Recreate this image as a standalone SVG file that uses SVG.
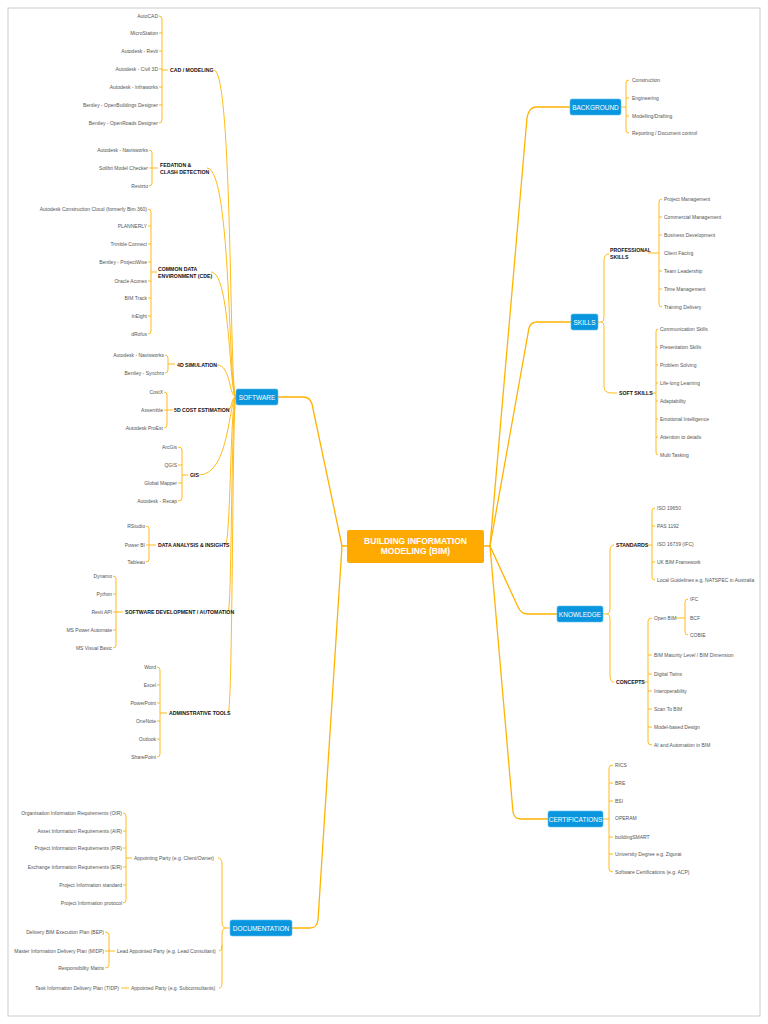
<svg xmlns="http://www.w3.org/2000/svg" width="768" height="1024" viewBox="0 0 768 1024">
<style>
.l{font-family:"Liberation Sans",Arial,sans-serif;font-size:5px;fill:#555}
.r{text-anchor:end}
.b{font-family:"Liberation Sans",Arial,sans-serif;font-size:5.2px;font-weight:bold;fill:#111}
.n{font-family:"Liberation Sans",Arial,sans-serif;font-size:6.5px;fill:#fff;text-anchor:middle}
.c{stroke:#FFB300;stroke-width:0.9;fill:none}
.m{stroke:#FFB300;stroke-width:1.3;fill:none}
.bx{fill:#0A96DE;stroke:#5BC0F0;stroke-width:0.6}
</style>
<rect x="8" y="8" width="752" height="1008" fill="#fff" stroke="#ccc" stroke-width="1"/>
<g id="connectors">
<path class="m" d="M347,546 H342 L312,404 Q310,397 303,397 H278"/>
<path class="m" d="M342,546 L318,920 Q317,928 310,928 H292"/>
<path class="m" d="M484,546 H490 L527,118 Q529,107 536,107 H570"/>
<path class="m" d="M490,546 L529,328 Q531,322 537,322 H571"/>
<path class="m" d="M490,546 L518,607 Q521,614 528,614 H557"/>
<path class="m" d="M490,546 L513,812 Q514,819 521,819 H548"/>
<!-- software groups to spine -->
<path class="c" d="M214,70 C233,70 229,397 236,397"/>
<path class="c" d="M207,168 C232,168 228,397 236,397"/>
<path class="c" d="M211,272 C231,272 229,397 236,397"/>
<path class="c" d="M217,365 C231,365 229,397 236,397"/>
<path class="c" d="M228,410 C232,410 231,397 236,397"/>
<path class="c" d="M199,475 C230,475 229,397 236,397"/>
<path class="c" d="M225,545 C231,545 230,397 236,397"/>
<path class="c" d="M228,612 C232,612 231,397 236,397"/>
<path class="c" d="M228,713 C233,713 232,397 236,397"/>
<!-- brackets software -->
<path class="c" d="M159,16 Q162,16 162,19 V120 Q162,123 159,123 M159,33 H162 M159,51 H162 M159,69 H162 M159,87 H162 M159,105 H162 M162,70 H168"/>
<path class="c" d="M149,150 Q152,150 152,153 V183 Q152,186 149,186 M149,168 H158"/>
<path class="c" d="M148,209 Q151,209 151,212 V331 Q151,334 148,334 M148,226 H151 M148,244 H151 M148,262 H151 M148,281 H151 M148,298 H151 M148,316 H151 M151,272 H157"/>
<path class="c" d="M165,355 Q168,355 168,358 V370 Q168,373 165,373 M168,364 H175"/>
<path class="c" d="M164,392 Q167,392 167,395 V425 Q167,428 164,428 M164,410 H173"/>
<path class="c" d="M178,447 Q182,447 182,450 V498 Q182,501 178,501 M178,465 H182 M178,483 H182 M182,475 H188"/>
<path class="c" d="M146,526 Q149,526 149,529 V559 Q149,562 146,562 M146,545 H156"/>
<path class="c" d="M113,576 Q116,576 116,579 V645 Q116,648 113,648 M113,594 H116 M113,612 H123 M113,630 H116"/>
<path class="c" d="M157,667 Q160,667 160,670 V754 Q160,757 157,757 M157,685 H160 M157,703 H160 M157,721 H160 M157,739 H160 M160,713 H167"/>
<!-- documentation -->
<path class="c" d="M230,928 H226 Q222,928 222,922 V864 Q222,858 218,858 M226,928 Q222,928 222,934 V945 Q222,951 219,951 M222,945 V982 Q222,988 219,988"/>
<path class="c" d="M123,813 Q126,813 126,816 V900 Q126,903 123,903 M123,831 H126 M123,848 H126 M123,867 H126 M123,885 H126 M126,858 H132"/>
<path class="c" d="M105,932 Q109,932 109,935 V965 Q109,968 105,968 M105,951 H115"/>
<path class="c" d="M121,988 H129"/>
<!-- right side -->
<path class="c" d="M621,107 H626 M629,80 Q626,80 626,83 V130 Q626,133 629,133 M629,98 H626 M629,116 H626"/>
<path class="c" d="M598,322 H601 Q604,322 604,316 V260 Q604,254 609,254 M601,322 Q604,322 604,328 V387 Q604,393 612,393 H617"/>
<path class="c" d="M648,253 H659 M662,199 Q659,199 659,202 V304 Q659,307 662,307 M662,217 H659 M662,235 H659 M662,271 H659 M662,289 H659"/>
<path class="c" d="M651,393 H656 M658,329 Q656,329 656,332 V452 Q656,455 658,455 M658,347 H656 M658,365 H656 M658,383 H656 M658,401 H656 M658,419 H656 M658,437 H656"/>
<path class="c" d="M603,614 H607 Q610,614 610,608 V551 Q610,545 614,545 M607,614 Q610,614 610,620 V676 Q610,682 614,682"/>
<path class="c" d="M646,545 H652 M655,508 Q652,508 652,511 V577 Q652,580 655,580 M655,526 H652 M655,562 H652"/>
<path class="c" d="M643,682 H648 M652,618 Q648,618 648,621 V742 Q648,745 652,745 M652,655 H648 M652,674 H648 M652,691 H648 M652,709 H648 M652,727 H648"/>
<path class="c" d="M676,618 H685 M688,599 Q685,599 685,602 V632 Q685,635 688,635"/>
<path class="c" d="M603,819 H609 M613,765 Q609,765 609,768 V869 Q609,872 613,872 M613,783 H609 M613,801 H609 M613,837 H609 M613,854 H609"/>
</g>
<g id="center"><rect x="347" y="530" width="137" height="33" rx="2" fill="#FFAA00"/>
<text class="n" x="415.5" y="544" style="font-size:8.5px;font-weight:bold">BUILDING INFORMATION</text>
<text class="n" x="415.5" y="554" style="font-size:8.5px;font-weight:bold">MODELING (BIM)</text></g>
<g id="software"><rect class="bx" x="236" y="389" width="42" height="16" rx="2"/><text class="n" x="257" y="399.5">SOFTWARE</text></g>
<g id="documentation"><rect class="bx" x="230" y="920" width="62" height="16" rx="2"/><text class="n" x="261" y="930.5">DOCUMENTATION</text></g>
<g id="background"><rect class="bx" x="570" y="99" width="51" height="16" rx="2"/><text class="n" x="595.5" y="109.5">BACKGROUND</text></g>
<g id="skills"><rect class="bx" x="571" y="314" width="27" height="16" rx="2"/><text class="n" x="584.5" y="324.5">SKILLS</text></g>
<g id="knowledge"><rect class="bx" x="557" y="606" width="46" height="16" rx="2"/><text class="n" x="580" y="616.5">KNOWLEDGE</text></g>
<g id="certifications"><rect class="bx" x="548" y="811" width="55" height="16" rx="2"/><text class="n" x="575.5" y="821.5">CERTIFICATIONS</text></g>
<g id="cad"><text class="b" x="170" y="71.8">CAD / MODELING</text>
<text class="l r" x="158" y="17.8">AutoCAD</text><text class="l r" x="158" y="34.8">MicroStation</text><text class="l r" x="158" y="52.8">Autodesk - Revit</text><text class="l r" x="158" y="70.8">Autodesk - Civil 3D</text><text class="l r" x="158" y="88.8">Autodesk - Infraworks</text><text class="l r" x="158" y="106.8">Bentley - OpenBuildings Designer</text><text class="l r" x="158" y="124.8">Bentley - OpenRoads Designer</text></g>
<g id="federation"><text class="b" x="160" y="166.5">FEDATION &amp;</text><text class="b" x="160" y="173.5">CLASH DETECTION</text>
<text class="l r" x="148" y="151.8">Autodesk - Navisworks</text><text class="l r" x="148" y="169.8">Solibri Model Checker</text><text class="l r" x="148" y="187.8">Revizto</text></g>
<g id="cde"><text class="b" x="158" y="270.5">COMMON DATA</text><text class="b" x="158" y="277.5">ENVIRONMENT (CDE)</text>
<text class="l r" x="147" y="210.8">Autodesk Construction Cloud (formerly Bim 360)</text><text class="l r" x="147" y="227.8">PLANNERLY</text><text class="l r" x="147" y="245.8">Trimble Connect</text><text class="l r" x="147" y="263.8">Bentley - ProjectWise</text><text class="l r" x="147" y="282.8">Oracle Aconex</text><text class="l r" x="147" y="299.8">BIM Track</text><text class="l r" x="147" y="317.8">InEight</text><text class="l r" x="147" y="335.8">dRofus</text></g>
<g id="sim4d"><text class="b" x="177" y="366.8">4D SIMULATION</text>
<text class="l r" x="164" y="356.8">Autodesk - Navisworks</text><text class="l r" x="164" y="374.8">Bentley - Synchro</text></g>
<g id="cost5d"><text class="b" x="174" y="411.8">5D COST ESTIMATION</text>
<text class="l r" x="163" y="393.8">CostX</text><text class="l r" x="163" y="411.8">Assemble</text><text class="l r" x="163" y="429.8">Autodesk ProEst</text></g>
<g id="gis"><text class="b" x="190" y="476.8">GIS</text>
<text class="l r" x="177" y="448.8">ArcGis</text><text class="l r" x="177" y="466.8">QGIS</text><text class="l r" x="177" y="484.8">Global Mapper</text><text class="l r" x="177" y="502.8">Autodesk - Recap</text></g>
<g id="data"><text class="b" x="158" y="546.8">DATA ANALYSIS &amp; INSIGHTS</text>
<text class="l r" x="145" y="527.8">RStudio</text><text class="l r" x="145" y="546.8">Power BI</text><text class="l r" x="145" y="563.8">Tableau</text></g>
<g id="swdev"><text class="b" x="125" y="613.8">SOFTWARE DEVELOPMENT / AUTOMATION</text>
<text class="l r" x="112" y="577.8">Dynamo</text><text class="l r" x="112" y="595.8">Python</text><text class="l r" x="112" y="613.8">Revit API</text><text class="l r" x="112" y="631.8">MS Power Automate</text><text class="l r" x="112" y="649.8">MS Visual Basic</text></g>
<g id="admin"><text class="b" x="169" y="714.8">ADMINSTRATIVE TOOLS</text>
<text class="l r" x="156" y="668.8">Word</text><text class="l r" x="156" y="686.8">Excel</text><text class="l r" x="156" y="704.8">PowerPoint</text><text class="l r" x="156" y="722.8">OneNote</text><text class="l r" x="156" y="740.8">Outlook</text><text class="l r" x="156" y="758.8">SharePoint</text></g>
<g id="appointing"><text class="l" x="134" y="859.8">Appointing Party (e.g. Client/Owner)</text>
<text class="l r" x="122" y="814.8">Organisation Information Requirements (OIR)</text><text class="l r" x="122" y="832.8">Asset Information Requirements (AIR)</text><text class="l r" x="122" y="849.8">Project Information Requirements (PIR)</text><text class="l r" x="122" y="868.8">Exchange Information Requirements (EIR)</text><text class="l r" x="122" y="886.8">Project Information standard</text><text class="l r" x="122" y="904.8">Project Information protocol</text></g>
<g id="lead"><text class="l" x="117" y="952.8">Lead Appointed Party (e.g. Lead Consultant)</text>
<text class="l r" x="104" y="933.8">Delivery BIM Execution Plan (BEP)</text><text class="l r" x="104" y="952.8">Master Information Delivery Plan (MIDP)</text><text class="l r" x="104" y="969.8">Responsibility Matrix</text></g>
<g id="appointed"><text class="l" x="131" y="989.8">Appointed Party (e.g. Subconsultants)</text>
<text class="l r" x="119" y="989.8">Task Information Delivery Plan (TIDP)</text></g>
<g id="bg-items"><text class="l" x="632" y="81.8">Construction</text><text class="l" x="632" y="99.8">Engineering</text><text class="l" x="632" y="117.8">Modelling/Drafting</text><text class="l" x="632" y="134.8">Reporting / Document control</text></g>
<g id="professional"><text class="b" x="610" y="252">PROFESSIONAL</text><text class="b" x="610" y="259">SKILLS</text>
<text class="l" x="664" y="200.8">Project Management</text><text class="l" x="664" y="218.8">Commercial Management</text><text class="l" x="664" y="236.8">Business Development</text><text class="l" x="664" y="254.8">Client Facing</text><text class="l" x="664" y="272.8">Team Leadership</text><text class="l" x="664" y="290.8">Time Management</text><text class="l" x="664" y="308.8">Training Delivery</text></g>
<g id="soft"><text class="b" x="619" y="394.8">SOFT SKILLS</text>
<text class="l" x="660" y="330.8">Communication Skills</text><text class="l" x="660" y="348.8">Presentation Skills</text><text class="l" x="660" y="366.8">Problem Solving</text><text class="l" x="660" y="384.8">Life-long Learning</text><text class="l" x="660" y="402.8">Adaptability</text><text class="l" x="660" y="420.8">Emotional Intelligence</text><text class="l" x="660" y="438.8">Attention to details</text><text class="l" x="660" y="456.8">Multi Tasking</text></g>
<g id="standards"><text class="b" x="616" y="546.8">STANDARDS</text>
<text class="l" x="657" y="509.8">ISO 19650</text><text class="l" x="657" y="527.8">PAS 1192</text><text class="l" x="657" y="545.8">ISO 16739 (IFC)</text><text class="l" x="657" y="563.8">UK BIM Framework</text><text class="l" x="657" y="581.8">Local Guidelines e.g. NATSPEC in Australia</text></g>
<g id="concepts"><text class="b" x="616" y="683.8">CONCEPTS</text>
<text class="l" x="654" y="619.8">Open BIM</text><text class="l" x="654" y="656.8">BIM Maturity Level / BIM Dimension</text><text class="l" x="654" y="675.8">Digital Twins</text><text class="l" x="654" y="692.8">Interoperability</text><text class="l" x="654" y="710.8">Scan To BIM</text><text class="l" x="654" y="728.8">Model-based Design</text><text class="l" x="654" y="746.8">AI and Automation in BIM</text>
<text class="l" x="690" y="600.8">IFC</text><text class="l" x="690" y="619.8">BCF</text><text class="l" x="690" y="636.8">COBIE</text></g>
<g id="cert-items"><text class="l" x="615" y="766.8">RICS</text><text class="l" x="615" y="784.8">BRE</text><text class="l" x="615" y="802.8">BSI</text><text class="l" x="615" y="819.8">OPERAM</text><text class="l" x="615" y="838.8">buildingSMART</text><text class="l" x="615" y="855.8">University Degree e.g. Zigurat</text><text class="l" x="615" y="873.8">Software Certifications (e.g. ACP)</text></g>
</svg>
